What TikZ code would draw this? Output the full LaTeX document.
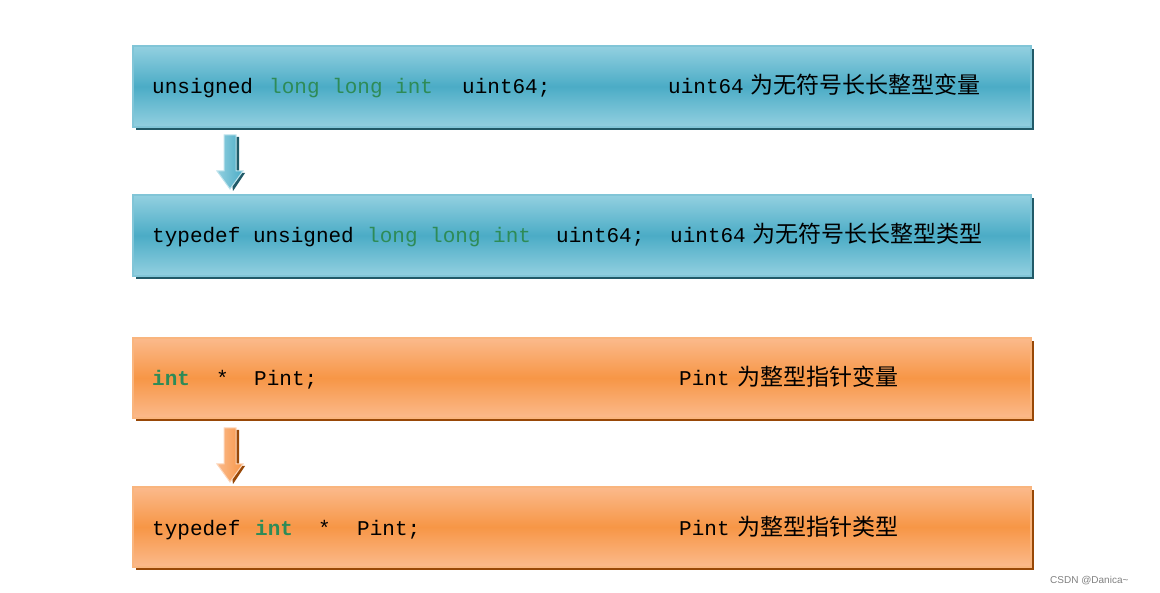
\documentclass[tikz,border=0pt]{standalone}
\usepackage{fontspec}
\setmonofont{Liberation Mono}
\newfontfamily\cjk{Noto Sans CJK SC}
\newfontfamily\wm{Liberation Sans}
\definecolor{bl1}{HTML}{93D0E0}
\definecolor{bl2}{HTML}{4BACC6}
\definecolor{bls}{HTML}{215A68}
\definecolor{bld}{HTML}{5FB8CF}
\definecolor{or1}{HTML}{FBBA8C}
\definecolor{or2}{HTML}{F79646}
\definecolor{ors}{HTML}{984807}
\definecolor{ord}{HTML}{F9A56A}
\definecolor{grn}{HTML}{2E8B57}
\begin{document}
\begin{tikzpicture}[x=1pt,y=-1pt,
  txt/.style={anchor=base west,inner sep=0pt,font=\fontsize{21}{24}\selectfont\ttfamily},
  gtxt/.style={txt,text=grn},
  ctxt/.style={anchor=base west,inner sep=0pt,font=\fontsize{23}{26}\selectfont\cjk}]
\useasboundingbox (0,0) rectangle (1160,593);
\newcommand\mybox[5]{% y1 y2 c1 c2 shadow
  \fill[#5] (136,#1+3) rectangle (1034,#2+3);
  \shade[top color=#3,bottom color=#3,middle color=#4,draw=#4!70!white,line width=1.5pt] (133,#1) rectangle (1031,#2);}
\newcommand\myarrow[5]{% ytop ybot c1 c2 shadow
  \fill[#5] (226,#1+2) -- (239,#1+2) -- (239,#2-16) -- (245,#2-16) -- (233,#2+2) -- cycle;
  \shade[left color=#3,right color=#4,draw=#3!60!white,line width=1pt] (224,#1) -- (236,#1) -- (236,#2-18) -- (243,#2-18) -- (230,#2) -- (217,#2-18) -- (224,#2-18) -- cycle;}
\mybox{46}{127}{bl1}{bl2}{bls}
\mybox{195}{276}{bl1}{bl2}{bls}
\mybox{338}{418}{or1}{or2}{ors}
\mybox{487}{567}{or1}{or2}{ors}
\myarrow{135}{189}{bl1}{bl2}{bls}
\myarrow{428}{482}{or1}{or2}{ors}
% box 1
\node[txt] (a1) at (152,94) {unsigned};
\node[gtxt] (a2) at (269,94) {long long int};
\node[txt] (a3) at (462,94) {uint64;};
\node[txt] (a4) at (668,94) {uint64};
\node[ctxt] (a5) at (750,94) {为无符号长长整型变量};
% box 2
\node[txt] (b1) at (152,243) {typedef unsigned};
\node[gtxt] (b2) at (367,243) {long long int};
\node[txt] (b3) at (556,243) {uint64;};
\node[txt] (b4) at (670,243) {uint64};
\node[ctxt] (b5) at (752,243) {为无符号长长整型类型};
% box 3
\node[gtxt,font=\fontsize{21}{24}\selectfont\ttfamily\bfseries] (c1) at (152,386) {int};
\node[txt] (c2) at (216,386) {*};
\node[txt] (c3) at (254,386) {Pint;};
\node[txt] (c4) at (679,386) {Pint};
\node[ctxt] (c5) at (737,386) {为整型指针变量};
% box 4
\node[txt] (d1) at (152,535) {typedef};
\node[gtxt,font=\fontsize{21}{24}\selectfont\ttfamily\bfseries] (d2) at (255,535) {int};
\node[txt] (d3) at (318,535) {*};
\node[txt] (d4) at (357,535) {Pint;};
\node[txt] (d5) at (679,535) {Pint};
\node[ctxt] (d6) at (737,535) {为整型指针类型};
\node[anchor=base west,inner sep=0pt,font=\fontsize{10}{12}\selectfont\wm,text=gray] (wm) at (1050,583) {CSDN @Danica\textasciitilde};
\end{tikzpicture}
\end{document}
